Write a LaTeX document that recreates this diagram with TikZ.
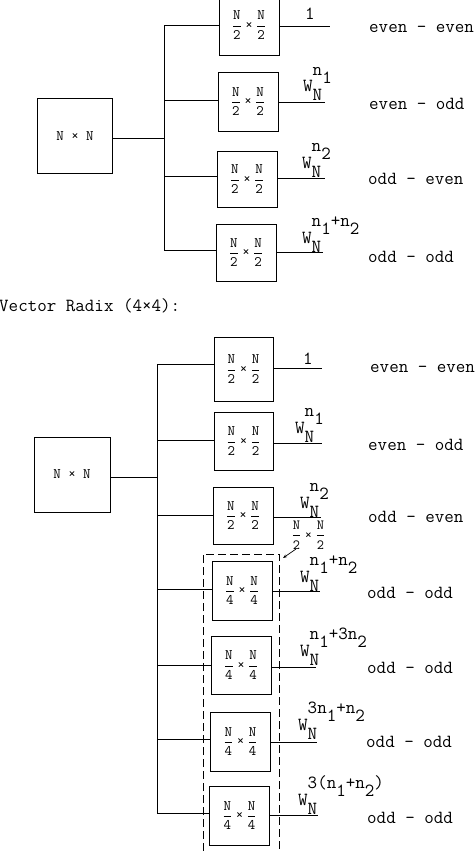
\documentclass[tikz,border=0pt]{standalone}
\usepackage{fontspec}
\usetikzlibrary{arrows.meta}
\newcommand\frc[2]{$\displaystyle\frac{\hbox{#1}}{\hbox{#2}}$}
\newcommand\ff[1]{\frc{N}{#1}\kern3.5pt×\kern3.5pt\frc{N}{#1}}
\newcommand\Wl[1]{W\rlap{\raisebox{-9pt}{N}}\raisebox{17pt}{#1}}
\newcommand\dn[1]{\raisebox{-8pt}{#1}}
\begin{document}
\begin{tikzpicture}[x=1pt,y=-1pt,
  blk/.style={draw, line width=0.9pt, inner sep=0pt, minimum width=60pt, font=\ttfamily\fontsize{14.5}{14.5}\selectfont},
  bigblk/.style={draw, line width=0.9pt, inner sep=0pt, minimum width=75pt, minimum height=75pt, font=\ttfamily\fontsize{14.5}{14.5}\selectfont},
  conn/.style={line width=0.7pt},
  lab/.style={inner sep=0pt, anchor=base west, font=\ttfamily\fontsize{18.5}{18.5}\selectfont},
  frlab/.style={inner sep=0pt, font=\ttfamily\fontsize{14}{14}\selectfont},
  grp/.style={line width=0.9pt, dash pattern=on 8pt off 4pt}]
\useasboundingbox (0,0) rectangle (474,851);
% ---------------- top diagram ----------------
\node[bigblk] (tbig) at (75,136) {N × N};
\node[blk, minimum height=60pt] (tA1) at (249,25) {\ff{2}};
\node[blk, minimum height=59pt] (tA2) at (248,101.5) {\ff{2}};
\node[blk, minimum height=56pt] (tA3) at (247,179) {\ff{2}};
\node[blk, minimum height=57pt] (tA4) at (246,252.5) {\ff{2}};
\coordinate (tbj) at (164,138);
\coordinate (tb1) at (164,25);
\coordinate (tb2) at (164,100);
\coordinate (tb3) at (164,176);
\coordinate (tb4) at (164,250);
\coordinate (to1) at (330,26);
\coordinate (to2) at (325,102);
\coordinate (to3) at (325,178);
\coordinate (to4) at (323,252);
\draw[conn] (tbj -| tbig.east) -- (tbj);
\draw[conn] (tb1 -| tA1.west) -- (tb1) -- (tb4) -- (tb4 -| tA4.west);
\draw[conn] (tb2) -- (tb2 -| tA2.west);
\draw[conn] (tb3) -- (tb3 -| tA3.west);
\draw[conn] (to1 -| tA1.east) -- (to1);
\draw[conn] (to2 -| tA2.east) -- (to2);
\draw[conn] (to3 -| tA3.east) -- (to3);
\draw[conn] (to4 -| tA4.east) -- (to4);
\node[lab] (tl1) at (305,20) {1};
\node[lab] (tl2) at (303,92) {\Wl{n\dn{1}}};
\node[lab] (tl3) at (302,168) {\Wl{n\dn{2}}};
\node[lab] (tl4) at (302,243) {\Wl{n\dn{1}+n\dn{2}}};
\node[lab] (te1) at (369,33) {even - even};
\node[lab] (te2) at (369,109) {even - odd};
\node[lab] (te3) at (368,184) {odd - even};
\node[lab] (te4) at (368,262) {odd - odd};
% ---------------- title ----------------
\node[lab] (vr) at (-1,311) {Vector Radix (4×4):};
% ---------------- bottom diagram ----------------
\node[bigblk, minimum width=76pt] (bbig) at (72,474.5) {N × N};
\node[blk, minimum width=59pt, minimum height=64pt] (bA1) at (243.5,369) {\ff{2}};
\node[blk, minimum width=59pt, minimum height=58pt] (bA2) at (243.5,441) {\ff{2}};
\node[blk, minimum height=57pt] (bA3) at (243,515.5) {\ff{2}};
\node[blk, minimum height=59pt] (bB1) at (242,590.5) {\ff{4}};
\node[blk, minimum height=58pt] (bB2) at (241,665) {\ff{4}};
\node[blk, minimum height=59pt] (bB3) at (240.5,741.5) {\ff{4}};
\node[blk, minimum height=59pt] (bB4) at (239.5,815.5) {\ff{4}};
\coordinate (bbj) at (157,477);
\coordinate (bb1) at (157,364);
\coordinate (bb2) at (157,440);
\coordinate (bb3) at (157,515);
\coordinate (bb4) at (157,589);
\coordinate (bb5) at (157,665);
\coordinate (bb6) at (157,739);
\coordinate (bb7) at (157,813);
\coordinate (bo1) at (322,368);
\coordinate (bo2) at (322,443);
\coordinate (bo3) at (321,517);
\coordinate (bo4) at (320,591);
\coordinate (bo5) at (316,667);
\coordinate (bo6) at (317,742);
\coordinate (bo7) at (318,815);
\draw[conn] (bbj -| bbig.east) -- (bbj);
\draw[conn] (bb1 -| bA1.west) -- (bb1) -- (bb7) -- (bb7 -| bB4.west);
\draw[conn] (bb2) -- (bb2 -| bA2.west);
\draw[conn] (bb3) -- (bb3 -| bA3.west);
\draw[conn] (bb4) -- (bb4 -| bB1.west);
\draw[conn] (bb5) -- (bb5 -| bB2.west);
\draw[conn] (bb6) -- (bb6 -| bB3.west);
\draw[conn] (bo1 -| bA1.east) -- (bo1);
\draw[conn] (bo2 -| bA2.east) -- (bo2);
\draw[conn] (bo3 -| bA3.east) -- (bo3);
\draw[conn] (bo4 -| bB1.east) -- (bo4);
\draw[conn] (bo5 -| bB2.east) -- (bo5);
\draw[conn] (bo6 -| bB3.east) -- (bo6);
\draw[conn] (bo7 -| bB4.east) -- (bo7);
% dashed group
\draw[grp] (203,851) -- (203,554) -- (279,554) -- (279,851);
\node[frlab] (bfr) at (308.5,535) {\ff{2}};
\coordinate (atail) at (296,549);
\coordinate (ahead) at (283,558);
\draw[conn,-{Stealth[length=4pt,width=3pt]}] (atail) -- (ahead);
% labels
\node[lab] (bl1) at (303,364) {1};
\node[lab] (bl2) at (295,433) {\Wl{n\dn{1}}};
\node[lab] (bl3) at (300,508) {\Wl{n\dn{2}}};
\node[lab] (bl4) at (300,582) {\Wl{n\dn{1}+n\dn{2}}};
\node[lab] (bl5) at (300,656) {\Wl{n\dn{1}+3n\dn{2}}};
\node[lab] (bl6) at (298,730) {\Wl{3n\dn{1}+n\dn{2}}};
\node[lab] (bl7) at (298,805) {\Wl{3(n\dn{1}+n\dn{2})}};
\node[lab] (be1) at (370,372) {even - even};
\node[lab] (be2) at (368,450) {even - odd};
\node[lab] (be3) at (368,522) {odd - even};
\node[lab] (be4) at (367,598) {odd - odd};
\node[lab] (be5) at (367,673) {odd - odd};
\node[lab] (be6) at (366,747) {odd - odd};
\node[lab] (be7) at (367,823) {odd - odd};
\end{tikzpicture}
\end{document}
